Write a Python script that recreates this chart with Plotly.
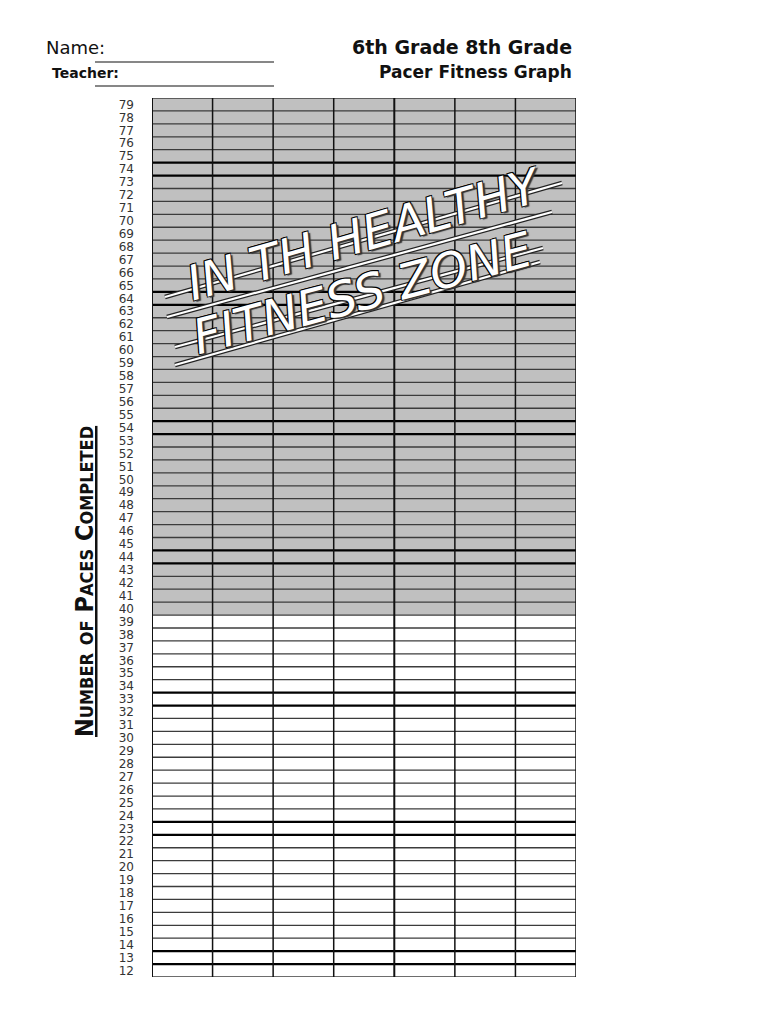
import plotly.graph_objects as go

# form data: pacer lap rows, blank columns for each test, healthy zone start
paces = list(range(12, 80))
test_columns = [1, 2, 3, 4, 5, 6, 7]
healthy_zone_min = 40
bold_rows = [13, 23, 33, 44, 54, 64, 74]

title_top = "6th Grade 8th Grade"
title_sub = "Pacer Fitness Graph"
zone_line1 = "IN TH HEALTHY"
zone_line2 = "FITNESS ZONE"
y_title = "Number of Paces Completed"

W, H = 768, 1024
OFF = 8  # page body margin
L, R, T, B = 152 - OFF, 576 - OFF, 98 - OFF, 977 - OFF


def px(x):
    return (x - OFF - L) / (R - L)


def py(y):
    return (B - (y - OFF)) / (B - T)


shade = [[1 if p >= healthy_zone_min else 0 for c in test_columns] for p in paces]

fig = go.Figure()
fig.add_trace(go.Heatmap(
    x=test_columns, y=paces, z=shade,
    colorscale=[[0, "white"], [1, "#c0c0c0"]],
    zmin=0, zmax=1, showscale=False, hoverinfo="skip"
))

shapes = []
# row boundaries
for p in range(paces[0] - 1, paces[-1] + 1):
    heavy = (p in bold_rows) or (p + 1 in bold_rows)
    shapes.append(dict(
        type="line", xref="x", yref="y",
        x0=test_columns[0] - 0.5, x1=test_columns[-1] + 0.5,
        y0=p + 0.5, y1=p + 0.5,
        line=dict(color="#000" if heavy else "#3c3c3c", width=2.2 if heavy else 1.3)
    ))
# column boundaries
for c in range(test_columns[0] - 1, test_columns[-1] + 1):
    shapes.append(dict(
        type="line", xref="x", yref="y",
        x0=c + 0.5, x1=c + 0.5,
        y0=paces[0] - 0.5, y1=paces[-1] + 0.5,
        line=dict(color="#111", width=2.0 if c in (0, 4) else 1.5)
    ))
# name / teacher blanks
for yy in (62, 86):
    shapes.append(dict(
        type="line", xref="paper", yref="paper",
        x0=px(95), x1=px(274), y0=py(yy), y1=py(yy),
        line=dict(color="#111", width=1.2)
    ))

# word-art strokes under the healthy zone banner
strokes = [
    ((165, 297), (562, 183)),
    ((167, 317), (552, 212)),
    ((175, 347), (543, 248)),
    ((175, 365), (540, 262)),
]
for (x0, y0), (x1, y1) in strokes:
    for col, w in (("#222", 4.6), ("white", 2.2)):
        shapes.append(dict(
            type="line", xref="paper", yref="paper",
            x0=px(x0), y0=py(y0), x1=px(x1), y1=py(y1),
            line=dict(color=col, width=w)
        ))

zone_font = dict(
    family="DejaVu Sans", size=48, color="white",
    shadow="2px 2px 1px #333, -1px -1px 0 #000, 1px -1px 0 #000, -1px 1px 0 #000"
)

annotations = [
    dict(text="Name:", x=px(44), y=py(48), xanchor="left", yanchor="middle",
         font=dict(family="DejaVu Sans", size=18, color="#111")),
    dict(text="<b>Teacher:</b>", x=px(50), y=py(73), xanchor="left", yanchor="middle",
         font=dict(family="DejaVu Sans", size=14, color="#111")),
    dict(text="<b>" + title_top + "</b>", x=px(574), y=py(47), xanchor="right", yanchor="middle",
         font=dict(family="DejaVu Sans", size=19, color="#111")),
    dict(text="<b>" + title_sub + "</b>", x=px(574), y=py(72), xanchor="right", yanchor="middle",
         font=dict(family="DejaVu Sans", size=17, color="#111")),
    dict(text="<b>" + y_title + "</b>", x=px(84), y=py(582), xanchor="center", yanchor="middle",
         textangle=-90,
         font=dict(family="DejaVu Sans Condensed", size=25, color="#111",
                   variant="small-caps", lineposition="under")),
    dict(text="<i>" + zone_line1 + "</i>", x=px(364), y=py(234), xanchor="center", yanchor="middle",
         textangle=-16, font=zone_font),
    dict(text="<i>" + zone_line2 + "</i>", x=px(362), y=py(293), xanchor="center", yanchor="middle",
         textangle=-15, font=zone_font),
]
for a in annotations:
    a.update(xref="paper", yref="paper", showarrow=False)

fig.update_layout(
    width=W, height=H,
    margin=dict(l=L, r=W - R, t=T, b=H - B),
    paper_bgcolor="white", plot_bgcolor="white",
    showlegend=False,
    shapes=shapes,
    annotations=annotations,
    xaxis=dict(range=[test_columns[0] - 0.5, test_columns[-1] + 0.5],
               showticklabels=False, showgrid=False, zeroline=False, fixedrange=True),
    yaxis=dict(range=[paces[0] - 0.5, paces[-1] + 0.5],
               tickvals=paces, ticktext=[str(p) for p in paces],
               ticklabelstandoff=17, ticks="",
               tickfont=dict(family="DejaVu Sans", size=12, color="#333"),
               showgrid=False, zeroline=False, fixedrange=True),
)

fig.write_html("out.html")
